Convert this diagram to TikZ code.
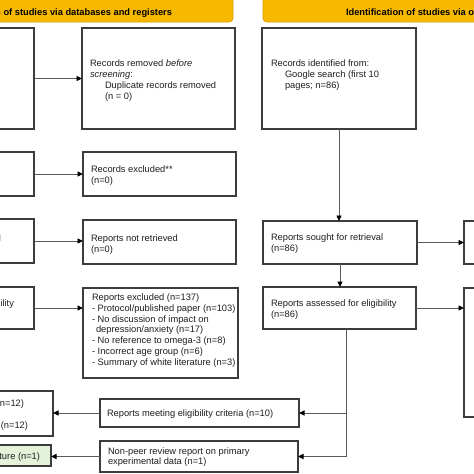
\documentclass[tikz,border=0pt]{standalone}
\usepackage{fontspec}
\setmainfont{Liberation Sans}
\usetikzlibrary{arrows.meta}
\definecolor{hdr}{RGB}{246,185,0}
\definecolor{hdrline}{RGB}{215,160,0}
\definecolor{boxline}{RGB}{60,60,60}
\definecolor{arrline}{RGB}{90,90,90}
\definecolor{greenfill}{RGB}{228,242,218}
\definecolor{txtcol}{RGB}{30,30,30}
\begin{document}
\begin{tikzpicture}[x=1pt,y=-1pt,
  box/.style={draw=boxline, line width=1.2pt, rectangle, inner sep=0pt, outer sep=0pt, fill=white},
  hdrbox/.style={draw=hdrline, line width=0.8pt, fill=hdr, rectangle, rounded corners=4pt, inner sep=0pt, outer sep=0pt},
  txt/.style={inner sep=0pt, outer sep=0pt, anchor=base west, text=txtcol, font=\fontsize{9.3}{11}\selectfont},
  txtr/.style={txt, anchor=base east},
  htxt/.style={inner sep=0pt, outer sep=0pt, text=black, font=\fontsize{9.3}{11}\selectfont\bfseries},
  arr/.style={draw=arrline, line width=0.9pt, -{Triangle[length=5.5pt,width=5pt,color=black]}}
]
\clip (0,0) rectangle (474,474);
\fill[white] (0,0) rectangle (474,474);

% headers
\node[hdrbox, minimum width=433pt, minimum height=25pt] (H1) at (16.5,9.5) {};
\node[hdrbox, minimum width=437pt, minimum height=25pt] (H2) at (481.5,9.5) {};
\node[htxt, anchor=base east] (H1t) at (172,15) {Identification of studies via databases and registers};
\node[htxt, anchor=base west] (H2t) at (346,15) {Identification of studies via other methods};

% left (cut) column
\node[box, minimum width=153pt, minimum height=101pt] (L1) at (-42.5,78.5) {};
\node[box, minimum width=153pt, minimum height=44pt] (L2) at (-42.5,174) {};
\node[box, minimum width=153pt, minimum height=44pt] (L3) at (-42.5,241) {};
\node[box, minimum width=153pt, minimum height=42pt] (L4) at (-42.5,308) {};
\node[box, minimum width=172pt, minimum height=45pt] (L5) at (-33,413.5) {};
\node[box, fill=greenfill, minimum width=170pt, minimum height=21pt] (L6) at (-34,455.5) {};
\node[txtr] (L3t) at (1,241.5) {Reports sought for retrieval};
\node[txtr] (L4t) at (14,306.5) {Reports assessed for eligibility};
\node[txtr] (L5a) at (24,406.5) {Studies included in review (n=12)};
\node[txtr] (L5b) at (28,428.5) {Reports of included studies (n=12)};
\node[txtr] (L6t) at (40,459.5) {Grey literature (n=1)};

% middle column
\node[box, minimum width=153pt, minimum height=101pt] (removed) at (158.5,78.5) {};
\node[box, minimum width=153pt, minimum height=44pt] (excluded) at (159.5,174) {};
\node[box, minimum width=153pt, minimum height=44pt] (notretr) at (159.5,242) {};
\node[box, minimum width=155pt, minimum height=90pt] (repexcl) at (160.5,333) {};
\node[box, minimum width=199pt, minimum height=28pt] (meeting) at (199.5,413) {};
\node[box, minimum width=198pt, minimum height=31pt] (nonpeer) at (199,456.5) {};

\node[txt] (rm1) at (90,66.5) {Records removed \textit{before}};
\node[txt] (rm2) at (90,77.5) {\textit{screening}:};
\node[txt] (rm3) at (105,88.5) {Duplicate records removed};
\node[txt] (rm4) at (105,99.5) {(n = 0)};

\node[txt] (ex1) at (91,172.5) {Records excluded**};
\node[txt] (ex2) at (91,183.5) {(n=0)};

\node[txt] (nr1) at (91,241.5) {Reports not retrieved};
\node[txt] (nr2) at (91,252.5) {(n=0)};

\node[txt] (re1) at (92,300.5) {Reports excluded (n=137)};
\node[txt] (re2) at (92,311.3) {- Protocol/published paper (n=103)};
\node[txt] (re3) at (92,322.1) {- No discussion of impact on};
\node[txt] (re4) at (96,332.9) {depression/anxiety (n=17)};
\node[txt] (re5) at (92,343.7) {- No reference to omega-3 (n=8)};
\node[txt] (re6) at (92,354.5) {- Incorrect age group (n=6)};
\node[txt] (re7) at (92,365.3) {- Summary of white literature (n=3)};

\node[txt] (me1) at (107,416.5) {Reports meeting eligibility criteria (n=10)};
\node[txt] (np1) at (108,454) {Non-peer review report on primary};
\node[txt] (np2) at (108,464.5) {experimental data (n=1)};

% right column
\node[box, minimum width=154pt, minimum height=101pt] (ident) at (339,78.5) {};
\node[box, minimum width=154pt, minimum height=43pt] (sought) at (340,242.5) {};
\node[box, minimum width=153pt, minimum height=42pt] (assessed) at (339.5,308) {};
\node[box, minimum width=156pt, minimum height=43pt] (R1) at (542,242.5) {};
\node[box, minimum width=156pt, minimum height=129pt] (R2) at (542,352.5) {};

\node[txt] (id1) at (271,66.5) {Records identified from:};
\node[txt] (id2) at (285,77.5) {Google search (first 10};
\node[txt] (id3) at (285,88.5) {pages; n=86)};
\node[txt] (so1) at (271,240.5) {Reports sought for retrieval};
\node[txt] (so2) at (271,251.5) {(n=86)};
\node[txt] (as1) at (271,306.5) {Reports assessed for eligibility};
\node[txt] (as2) at (271,317.5) {(n=86)};

% connectors
\coordinate (trunk) at (346,0);
\draw[arr] (L1.east) -- (L1.east -| removed.west);
\draw[arr] (L2.east) -- (L2.east -| excluded.west);
\draw[arr] (L3.east) -- (L3.east -| notretr.west);
\draw[arr] (L4.east) -- (L4.east -| repexcl.west);
\draw[arr] (ident.south) -- (ident.south |- sought.north);
\draw[arr] (sought.east) -- (sought.east -| R1.west);
\draw[arr] (sought.south) -- (sought.south |- assessed.north);
\draw[arr] (assessed.east) -- (assessed.east -| R2.west);
\draw[arr] (assessed.south -| trunk) |- (meeting.east);
\draw[arr] (assessed.south -| trunk) |- (nonpeer.east);
\draw[arr] (meeting.west) -- (meeting.west -| L5.east);
\draw[arr] (nonpeer.west) -- (nonpeer.west -| L6.east);
\end{tikzpicture}
\end{document}
